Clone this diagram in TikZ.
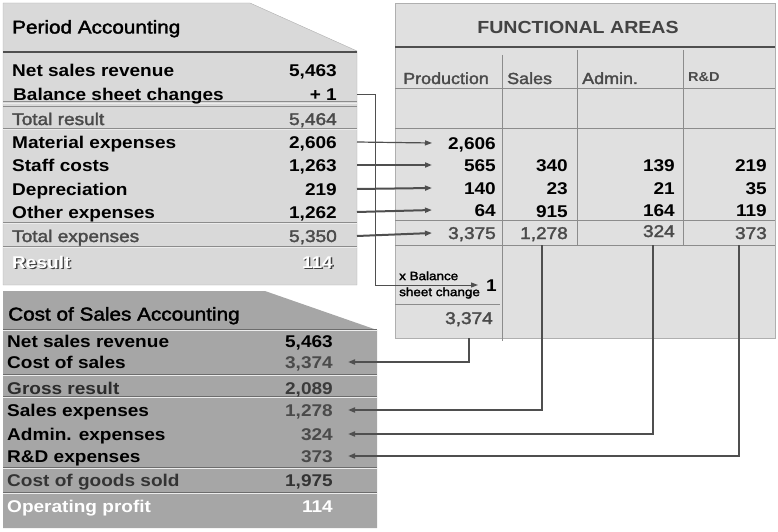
\documentclass[tikz,border=0pt]{standalone}
\usepackage{fontspec}
\setmainfont{Liberation Sans}[FakeStretch=1.12]
\newfontfamily\mediumfont{Liberation Sans}[FakeStretch=1.12,FakeBold=2]
\usetikzlibrary{positioning,arrows.meta}
\definecolor{paper}{HTML}{D9D9D9}
\definecolor{areas}{HTML}{E0E0E0}
\definecolor{costs}{HTML}{A6A6A6}
\definecolor{rule}{HTML}{8C8C8C}
\definecolor{ink}{HTML}{4F4F4F}
\definecolor{sub}{HTML}{4A4A4A}

\begin{document}
\begin{tikzpicture}[x=1pt,y=-1pt,
    lab/.style={anchor=west,inner sep=0pt,text height=12pt,text depth=0pt,
      font=\fontsize{17}{20}\selectfont\bfseries},
    val/.style={lab,anchor=east},
    tot/.style={text=sub,font=\fontsize{17}{20}\selectfont\mediumfont},
    head/.style={anchor=west,inner sep=0pt,text height=13pt,text depth=0pt,
      font=\fontsize{18.5}{22}\selectfont\mediumfont},
    colhead/.style={anchor=west,inner sep=0pt,text height=12pt,text depth=0pt,
      text=sub,font=\fontsize{16}{19}\selectfont\mediumfont},
    sep/.style={draw=rule,line width=1pt},
    gloss/.style={draw=white!85!gray,line width=.8pt},
    flow/.style={draw=ink,line width=2pt,-{Triangle[length=7pt,width=5pt]}},
    thinflow/.style={flow,line width=1pt}]
  \useasboundingbox (0,0) rectangle (778,532);

  % period accounting
  \filldraw[fill=paper,draw=rule!70] (3,3) -- (250,3) -- (357,51) -- (357,285) -- (3,285) -- cycle;
  \draw[ink,line width=1.5pt] (3,52) -- (357,52);
  \foreach \y in {102,128,222,246} {
    \draw[sep] (3,\y) -- (357,\y);
    \draw[gloss] (3,\y+1.5) -- (357,\y+1.5);
  }
  \draw[sep,line width=.6pt] (3,106) -- (357,106);
  \node[head] (period) at (12,27) {Period Accounting};
  \node[lab] (netsales) at (12,71) {Net sales revenue};
  \node[val] (netsalesv) at (337,71) {5,463};
  \node[lab] (balance) at (13,95) {Balance sheet changes};
  \node[val] (balancev) at (337,95) {+ 1};
  \node[lab,tot] (totres) at (12,119) {Total result};
  \node[val,tot] (totresv) at (337,119) {5,464};
  \node[lab] (material) at (12,142) {Material expenses};
  \node[val] (materialv) at (337,142) {2,606};
  \node[lab] (staff) at (12,165) {Staff costs};
  \node[val] (staffv) at (337,165) {1,263};
  \node[lab] (deprec) at (12,189) {Depreciation};
  \node[val] (deprecv) at (337,189) {219};
  \node[lab] (other) at (12,212) {Other expenses};
  \node[val] (otherv) at (337,212) {1,262};
  \node[lab,tot] (totexp) at (12,236) {Total expenses};
  \node[val,tot] (totexpv) at (337,236) {5,350};
  \node[lab,text=black!75] at (13.4,263.4) {Result};
  \node[val,text=black!75] at (334.4,263.4) {114};
  \node[lab,text=white] (result) at (12,262) {Result};
  \node[val,text=white] (resultv) at (333,262) {114};

  % functional areas
  \filldraw[fill=areas,draw=rule!70] (395,3) rectangle (775,338);
  \draw[ink,line width=1.2pt] (395,47) -- (775,47);
  \foreach \y in {88,128,220,245}
    \draw[sep,line width=.8pt] (395,\y) -- (775,\y);
  \draw[sep,line width=.8pt] (502,55) -- (502,341)
    (577,50) -- (577,245) (683,50) -- (683,245)
    (395,304) -- (500,304);
  \node[font=\fontsize{17.5}{21}\selectfont\bfseries,text=ink!85!black] (areas) at (578,27) {FUNCTIONAL AREAS};
  \node[colhead] (production) at (403,78) {Production};
  \node[colhead] (sales) at (507,78) {Sales};
  \node[colhead] (admin) at (582,78) {Admin.};
  \node[colhead,font=\fontsize{13}{15}\selectfont\bfseries] (rd) at (688,76) {R\&D};

  \node[val] (prodmat) at (496,143) {2,606};
  \node[val] (prodstaff) at (496,165) {565};
  \node[val] (salesstaff) at (568,165) {340};
  \node[val] (adminstaff) at (675,165) {139};
  \node[val] (rdstaff) at (767,165) {219};
  \node[val] (proddep) at (496,188) {140};
  \node[val] (salesdep) at (568,188) {23};
  \node[val] (admindep) at (675,188) {21};
  \node[val] (rddep) at (767,188) {35};
  \node[val] (prodoth) at (496,210) {64};
  \node[val] (salesoth) at (568,211) {915};
  \node[val] (adminoth) at (675,210) {164};
  \node[val] (rdoth) at (767,210) {119};
  \node[val,tot] (prodtot) at (496,233) {3,375};
  \node[val,tot] (salestot) at (568,233) {1,278};
  \node[val,tot] (admintot) at (675,231) {324};
  \node[val,tot] (rdtot) at (767,233) {373};

  \node[anchor=west,inner sep=0pt,align=left,font=\fontsize{12}{16}\selectfont\mediumfont] (xbal) at (399,285) {x Balance\\sheet change};
  \node[val] (balone) at (497,285) {1};
  \node[val,tot] (prodnet) at (493,318) {3,374};

  % cost of sales accounting
  \fill[costs] (3,291) -- (265,291) -- (377,330) -- (377,528) -- (3,528) -- cycle;
  \foreach \y in {330,375,397,468,493} {
    \draw[draw=gray!85!black,line width=.8pt] (3,\y-1) -- (377,\y-1);
    \draw[gloss] (3,\y) -- (377,\y);
  }
  \node[head] (costsales) at (8,314) {Cost of Sales Accounting};
  \node[lab] (cnet) at (7,341) {Net sales revenue};
  \node[val] (cnetv) at (333,341) {5,463};
  \node[lab] (ccost) at (7,362) {Cost of sales};
  \node[val,text=sub] (ccostv) at (333,362) {3,374};
  \node[lab,text=sub!60!black] (cgross) at (7,388) {Gross result};
  \node[val,text=sub!80!black] (cgrossv) at (333,388) {2,089};
  \node[lab] (csales) at (7,410) {Sales expenses};
  \node[val,text=sub] (csalesv) at (333,410) {1,278};
  \node[lab] (cadmin) at (7,434) {Admin. expenses};
  \node[val,text=sub] (cadminv) at (333,434) {324};
  \node[lab] (crd) at (7,456) {R\&D expenses};
  \node[val,text=sub] (crdv) at (333,456) {373};
  \node[lab,text=sub!70!black] (cgoods) at (7,480) {Cost of goods sold};
  \node[val,text=sub!70!black] (cgoodsv) at (333,480) {1,975};
  \node[lab,text=white] (cprofit) at (7,506) {Operating profit};
  \node[val,text=white] (cprofitv) at (333,506) {114};

  % connectors
  \coordinate (paright) at (357,0);
  \coordinate (balturn) at (375,0);
  \coordinate (tip) at (432,0);
  \coordinate (costin) at (348,0);
  \coordinate (fabottom) at (0,338);
  \coordinate (salesdrop) at (542,245);
  \coordinate (admindrop) at (653,245);
  \coordinate (rddrop) at (739,245);

  \draw[thinflow,shorten >=8pt] (balancev -| paright) -- (balancev -| balturn) |- (balone.west);
  \draw[flow,line width=1.2pt] (materialv -| paright) -- (prodmat -| tip);
  \draw[flow] (staffv -| paright) -- (prodstaff -| tip);
  \draw[flow] (deprecv -| paright) -- (proddep -| tip);
  \draw[flow] (otherv -| paright) -- (prodoth -| tip);
  \draw[flow] (totexpv -| paright) -- (prodtot -| tip);

  \draw[flow] (prodnet |- fabottom) |- (ccostv -| costin);
  \draw[flow] (salesdrop) |- (csalesv -| costin);
  \draw[flow] (admindrop) |- (cadminv -| costin);
  \draw[flow] (rddrop) |- (crdv -| costin);
\end{tikzpicture}
\end{document}
